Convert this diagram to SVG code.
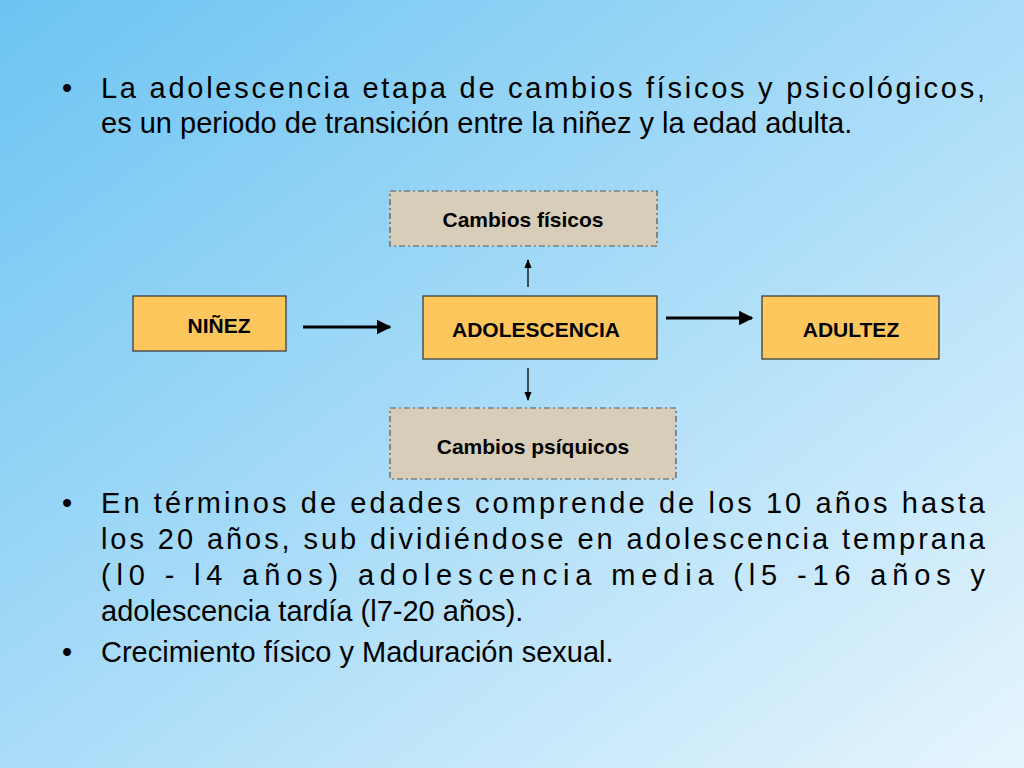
<svg xmlns="http://www.w3.org/2000/svg" width="1024" height="768" viewBox="0 0 1024 768">
<defs>
<linearGradient id="bg" x1="0" y1="0" x2="1" y2="1">
<stop offset="0" stop-color="#6cc4f2"/><stop offset="0.5" stop-color="#a9dcf8"/><stop offset="1" stop-color="#e6f5fd"/>
</linearGradient>
<marker id="ah" viewBox="0 0 10 10" refX="9" refY="5" markerWidth="5" markerHeight="5" orient="auto"><path d="M0,0 L10,5 L0,10 z" fill="#000"/></marker>
<marker id="as" viewBox="0 0 10 10" refX="9" refY="5" markerWidth="7" markerHeight="7" orient="auto"><path d="M0,1 L10,5 L0,9 z" fill="#000"/></marker>
</defs>
<style>
.t{font-family:"Liberation Sans",Arial,sans-serif;font-size:29px;fill:#000}
.b{font-family:"Liberation Sans",Arial,sans-serif;font-size:21px;font-weight:bold;fill:#000;text-anchor:middle}
.o{fill:#fdc75e;stroke:#333;stroke-width:1.2}
.g{fill:#d8cdb8;stroke:#555;stroke-width:1.2;stroke-dasharray:6 3 2 3}
</style>
<rect width="1024" height="768" fill="url(#bg)"/>
<g class="t">
<text x="62" y="98">•</text>
<text x="101" y="98" textLength="884" lengthAdjust="spacing">La adolescencia etapa de cambios físicos y psicológicos,</text>
<text x="101" y="133">es un periodo de transición entre la niñez y la edad adulta.</text>
<text x="62" y="513">•</text>
<text x="101" y="513" textLength="884" lengthAdjust="spacing">En términos de edades comprende de los 10 años hasta</text>
<text x="101" y="549" textLength="884" lengthAdjust="spacing">los 20 años, sub dividiéndose en adolescencia temprana</text>
<text x="101" y="585" textLength="884" lengthAdjust="spacing">(l0 - l4 años) adolescencia media (l5 -16 años y</text>
<text x="101" y="621">adolescencia tardía (l7-20 años).</text>
<text x="62" y="662">•</text>
<text x="101" y="662">Crecimiento físico y Maduración sexual.</text>
</g>
<g id="fisicos"><rect class="g" x="390" y="191" width="267" height="55"/><text class="b" x="523" y="227">Cambios físicos</text></g>
<g id="ninez"><rect class="o" x="133" y="296" width="153" height="55"/><text class="b" x="219" y="333">NIÑEZ</text></g>
<g id="adolescencia"><rect class="o" x="423" y="296" width="234" height="63"/><text class="b" x="536" y="337">ADOLESCENCIA</text></g>
<g id="adultez"><rect class="o" x="762" y="296" width="177" height="63"/><text class="b" x="851" y="337">ADULTEZ</text></g>
<g id="psiquicos"><rect class="g" x="390" y="408" width="286" height="71"/><text class="b" x="533" y="454">Cambios psíquicos</text></g>
<g id="connectors" stroke="#000" fill="none">
<line x1="303" y1="327" x2="390" y2="327" stroke-width="3" marker-end="url(#ah)"/>
<line x1="666" y1="318" x2="752" y2="318" stroke-width="3" marker-end="url(#ah)"/>
<line x1="528" y1="287" x2="528" y2="260" stroke-width="1.3" marker-end="url(#as)"/>
<line x1="528" y1="368" x2="528" y2="400" stroke-width="1.3" marker-end="url(#as)"/>
</g>
</svg>
